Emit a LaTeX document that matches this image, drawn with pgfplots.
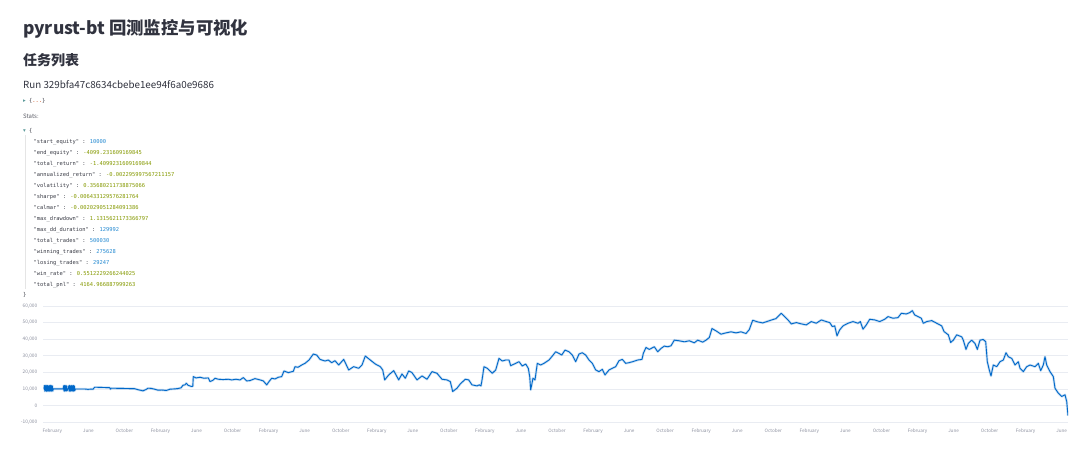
\documentclass[border=0pt]{standalone}
\usepackage{fontspec}
\usepackage{pgfplots}
\usepackage{pgfplotstable}
\pgfplotsset{compat=1.18}
\setmainfont{Noto Sans CJK SC}
\newfontfamily\jmono{DejaVu Sans Mono}
\newfontfamily\jsym{DejaVu Sans}
\definecolor{txt}{HTML}{31333F}
\definecolor{linec}{HTML}{0068C9}
\definecolor{gridc}{HTML}{E9ECF2}
\definecolor{tickc}{HTML}{8D91A0}
\definecolor{jkey}{HTML}{3A3C46}
\definecolor{jint}{HTML}{268BD2}
\definecolor{jflt}{HTML}{859900}
\definecolor{jdots}{HTML}{CB4B16}
\definecolor{jcaret}{HTML}{5B9A9A}

\pgfplotstableread{
x y
44 10000
44.4 12000
44.8 8600
45.2 11800
45.6 8800
46.0 12100
46.4 8500
46.8 11900
47.2 8700
47.6 12000
48.0 8600
48.4 11700
48.8 8800
49.2 12000
49.6 8600
50.0 11800
50.4 8700
50.8 12100
51.2 8600
51.6 11900
52.0 8800
52.4 11800
52.8 8700
53.3 10000
58 10000
63.3 10000
63.6 11900
64.0 8700
64.4 12000
64.8 8600
65.2 11800
65.6 8800
66.0 12000
66.4 8700
66.8 11700
67.2 8900
67.6 10000
68.4 10000
68.8 11900
69.2 8600
69.6 12100
70.0 8700
70.4 11800
70.8 8600
71.2 12000
71.6 8800
72.0 11900
72.4 8700
72.8 11800
73.2 8600
73.6 12000
74.0 8800
74.4 11700
74.8 8900
75.3 9900
80 9900
85 9900
88 9700
90 9800
93 9800
94.7 11000
100 10900
105 10800
109.7 10700
110.5 9800
111 10400
120 10300
128 10200
134.7 10100
138 9500
143 8800
146 9600
148 10400
151 10300
154.7 9800
158 9200
162 9300
166.3 9000
170 9800
175 10000
178 10200
181 10600
183 12200
185 12400
186.3 13400
188 12200
191.5 11400
192.8 11600
193.3 17400
196 16600
200 17000
204 16400
208.3 16600
210 14400
213 15200
215 16400
218.3 15800
223 15600
228.3 15800
231.7 15400
236 15800
240 15400
243.3 16800
246.7 14800
250 15000
255 16200
260 15400
263.3 14800
266.7 12400
269 14400
271.7 16400
275 16000
278.3 17000
281.7 17400
284 20800
288.3 19800
293.3 20600
295 23400
298 23000
301.7 24400
305 25400
309 27400
313.3 31000
316.7 30400
320 27800
325 26800
328.3 27400
331.7 25800
335 27000
338.7 24400
343.7 27800
348.7 21400
353.7 23400
358.7 22400
362 24400
365.3 29800
370.3 27400
375.3 25000
380.3 23400
382.7 21400
384.7 15400
388.7 18400
393.7 21000
398.7 15400
402 19000
405.3 16400
408.7 20800
412 19800
417 15400
422 17800
427 15800
432 20400
437 19400
442 15800
447 15400
450.3 14400
452.7 8400
457 10400
460.3 13000
465.3 15800
468.7 15400
472 12400
477 11800
479.3 12400
481 11800
482.3 16400
484 23400
487.3 22400
490.7 20400
492.3 19400
495.7 21400
499 28400
502.3 26800
505.7 27400
509 27400
510.7 24000
515.7 25400
519 26400
522.3 23800
525.7 25000
528.3 22400
529.7 17400
530.7 9400
533 16400
535 15400
537.3 25400
540.7 24400
544 25400
549 27400
552.3 29800
555.7 32400
559 31400
561.7 30400
565 33400
569 32400
572.3 30400
575.7 26400
579 31000
582.3 31800
585.7 30400
589 27400
592.3 25400
595.7 21400
599 20400
602.3 21800
605 18400
609 21400
612.3 22400
615.7 23400
619 27000
622.3 27800
625.7 25400
629 25800
632.7 26400
637.7 27400
642 27800
643.3 31400
646 35000
649.3 33800
654.3 35400
657.7 32400
661 34400
664.3 35800
667.7 35400
671 36000
674.3 39400
679.3 39000
684.3 38400
689.3 39000
694.3 37800
697.7 39400
702.7 38200
706 39400
709.3 41000
712 46400
716 45000
721 43000
726 43800
731 44400
736 43800
741 44400
746 43400
749.3 45800
752.7 51400
757.7 50400
762.7 49800
767.7 50800
772.7 51800
776 52400
781.3 55600
784.7 53600
788 51600
791.3 49200
796.3 50000
801.3 49200
806.3 48600
811.3 50600
816.3 49600
821.3 51600
826.3 50600
829.7 50000
832.3 47600
834.7 48000
837 42000
839.7 45600
843 48000
848 49600
853 50600
858 49600
860.3 50600
863 46000
866.3 48600
869.7 52000
874.7 51600
879.7 50600
884.7 52000
888 53600
893 52600
898 53000
901.3 55600
906.3 55200
909.7 56000
912.3 57200
914.7 54600
918 53600
921.3 52600
923.3 49600
926.7 50600
931.7 51200
936.7 49600
941.7 48000
944 44600
948.3 42600
950.7 38000
953.3 39400
956.7 42600
961.7 41400
963.3 39400
966 33800
968.3 37400
971.7 39400
975 37400
977.3 33800
980 39400
983.3 39800
985.7 38400
987.3 26400
989.3 21400
991 17800
993.3 24400
996.7 23400
1000 26400
1003.3 27400
1006 31800
1008.3 29400
1011.7 28400
1015 24400
1018.3 26400
1020 22400
1023.3 20400
1026.7 23400
1030 24400
1035 23400
1038.3 25400
1040.7 21000
1043.3 24400
1045 29400
1046.7 24400
1050 20400
1053.3 17400
1055 10400
1058.3 7400
1061.7 5400
1065 6400
1066.7 2400
1068 -6200
}\eqdata

\begin{document}
\begin{tikzpicture}[x=1pt,y=1pt]
\path[use as bounding box, fill=white] (0,0) rectangle (1080,-450);

% headings
\node[anchor=base west, inner sep=0pt, text=txt, font=\fontsize{17.4}{20}\selectfont\bfseries] at (23,-34) {pyrust-bt 回测监控与可视化};
\node[anchor=base west, inner sep=0pt, text=txt, font=\fontsize{14}{16}\selectfont\bfseries] at (23,-65) {任务列表};
\node[anchor=base west, inner sep=0pt, text=txt, font=\fontsize{9.8}{12}\selectfont] at (23,-88) {Run 329bfa47c8634cbebe1ee94f6a0e9686};

% collapsed json
\node[anchor=base west, inner sep=0pt, font=\jmono\fontsize{5.4}{6}\selectfont] at (23,-102) {\textcolor{jcaret}{{\jsym ▸}} \textcolor{jkey}{\{}\textcolor{jdots}{...}\textcolor{jkey}{\}}};
\node[anchor=base west, inner sep=0pt, text=txt!80, font=\fontsize{6}{7}\selectfont] at (23,-118.8) {Stats:};

% expanded json
\node[anchor=base west, inner sep=0pt, font=\jmono\fontsize{5.4}{6}\selectfont] at (23,-132) {\textcolor{jcaret}{{\jsym ▾}} \textcolor{jkey}{\{}};
\draw[gray!20, line width=0.5pt] (25.5,-135) -- (25.5,-289);
\tikzset{jl/.style={anchor=base west, inner sep=0pt, text=jkey, font=\jmono\fontsize{5.4}{6}\selectfont}}
\node[jl] at (33.3,-143.7) {"start\_equity" : \textcolor{jint}{10000}};
\node[jl] at (33.3,-154.7) {"end\_equity" : \textcolor{jflt}{-4099.231609169845}};
\node[jl] at (33.3,-165.7) {"total\_return" : \textcolor{jflt}{-1.4099231609169844}};
\node[jl] at (33.3,-176.7) {"annualized\_return" : \textcolor{jflt}{-0.002295997567211157}};
\node[jl] at (33.3,-187.7) {"volatility" : \textcolor{jflt}{0.35680211738875066}};
\node[jl] at (33.3,-198.7) {"sharpe" : \textcolor{jflt}{-0.006433129576281764}};
\node[jl] at (33.3,-209.7) {"calmar" : \textcolor{jflt}{-0.002029051284091386}};
\node[jl] at (33.3,-220.7) {"max\_drawdown" : \textcolor{jflt}{1.1315621173366797}};
\node[jl] at (33.3,-231.7) {"max\_dd\_duration" : \textcolor{jint}{129992}};
\node[jl] at (33.3,-242.7) {"total\_trades" : \textcolor{jint}{500030}};
\node[jl] at (33.3,-253.7) {"winning\_trades" : \textcolor{jint}{275628}};
\node[jl] at (33.3,-264.7) {"losing\_trades" : \textcolor{jint}{29247}};
\node[jl] at (33.3,-275.7) {"win\_rate" : \textcolor{jflt}{0.5512229266244025}};
\node[jl] at (33.3,-286.7) {"total\_pnl" : \textcolor{jflt}{4164.966887999263}};
\node[jl] at (23,-296) {\}};

\begin{axis}[
  at={(43pt,-422pt)}, anchor=south west,
  scale only axis, width=1025pt, height=116pt,
  xmin=43, xmax=1068, ymin=-10000, ymax=60000,
  ytick={-10000,0,10000,20000,30000,40000,50000,60000},
  xtick={52.3,88.35,...,1062},
  xticklabels={February,June,October,February,June,October,February,June,October,February,June,October,February,June,October,February,June,October,February,June,October,February,June,October,February,June,October,February,June},
  ymajorgrids, major grid style={gridc, line width=0.6pt},
  axis line style={draw=none}, tick style={draw=none},
  scaled y ticks=false,
  yticklabel style={font=\fontsize{4.8}{5}\selectfont, text=tickc, anchor=east, inner sep=0pt, xshift=-5.5pt},
  xticklabel style={font=\fontsize{4.6}{5}\selectfont, text=tickc, anchor=north, inner sep=0pt, yshift=-6.5pt},
  /pgf/number format/.cd, 1000 sep={,}, assume math mode=true,
]
\addplot[linec!70, line width=2.4pt, opacity=0.3, line join=round] table[x=x,y=y] {\eqdata};
\addplot[linec, line width=0.9pt, line join=round] table[x=x,y=y] {\eqdata};
\end{axis}
\end{tikzpicture}
\end{document}
